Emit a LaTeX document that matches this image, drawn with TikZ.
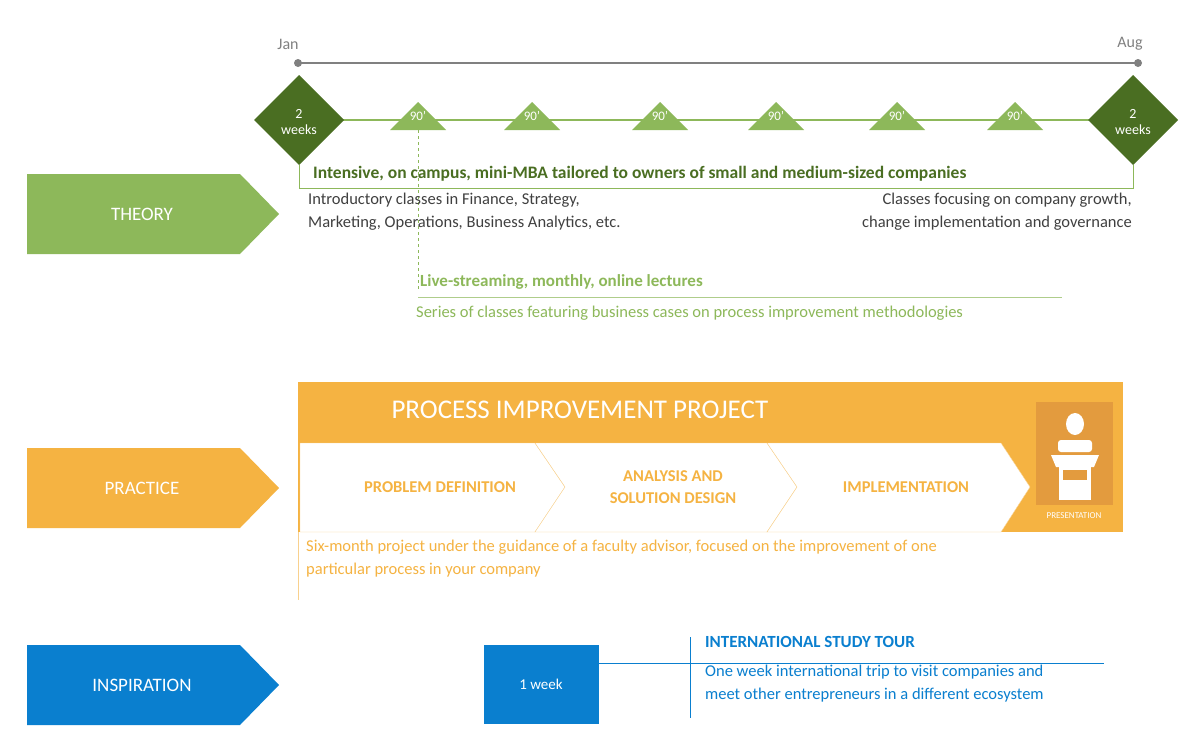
\documentclass[tikz,border=0pt]{standalone}
\usepackage{fontspec}
\setmainfont{Carlito}
\definecolor{dkgreen}{HTML}{4A6E22}
\definecolor{ltgreen}{HTML}{8DB85A}
\definecolor{orng}{HTML}{F5B342}
\definecolor{dkorng}{HTML}{E39B3E}
\definecolor{blu}{HTML}{0A7FCF}
\definecolor{txtgray}{HTML}{404040}
\definecolor{tlgray}{HTML}{808080}
\begin{document}
\begin{tikzpicture}[x=1pt,y=-1pt,
    lbl/.style={font=\fontsize{19}{22}\selectfont, text=white},
    body/.style={font=\fontsize{16.5}{23}\selectfont, align=left, inner sep=0pt}]

    % Set background
    \fill[white] (0,0) rectangle (1200,744);

    % Month line
    \draw[tlgray, line width=2pt] (298,63) -- (1138,63);
    \fill[tlgray] (298,63) circle (4) (1138,63) circle (4);
    \node[text=tlgray, font=\fontsize{16}{18}\selectfont] (jan) at (288,44) {Jan};
    \node[text=tlgray, font=\fontsize{16}{18}\selectfont] (aug) at (1130,44) {Aug};

    % Green timeline
    \draw[ltgreen, line width=1.5pt] (299,120) -- (1133,120);
    \draw[ltgreen, dashed] (418,130) -- (418,290);
    \foreach \x in {418,532,660,776,897,1015}
        \fill[ltgreen] (\x-28,130) -- (\x,102) -- (\x+28,130) -- cycle
            node[white, font=\fontsize{13}{14}\selectfont] at (\x,116) {90'};
    \foreach \x/\n in {299/dstart,1133/dend} {
        \fill[dkgreen] (\x-45,120) -- (\x,75) -- (\x+45,120) -- (\x,165) -- cycle;
        \node[white, align=center, font=\fontsize{14}{16}\selectfont] (\n) at (\x,122) {2\\weeks};
    }

    % Intensive bracket
    \draw[ltgreen, line width=1pt] (299,165) -- (299,188) -- (1133,188) -- (1133,165);
    \node[body, anchor=west, text=dkgreen, font=\bfseries\fontsize{17.5}{20}\selectfont] (intens) at (313,174)
        {Intensive, on campus, mini-MBA tailored to owners of small and medium-sized companies};
    \node[body, anchor=north west, text=txtgray] (intro) at (308,193)
        {Introductory classes in Finance, Strategy,\\Marketing, Operations, Business Analytics, etc.};
    \node[body, anchor=north east, align=right, text=txtgray] (growth) at (1132,193)
        {Classes focusing on company growth,\\change implementation and governance};

    % Live-streaming
    \node[body, anchor=west, text=ltgreen, font=\bfseries\fontsize{17}{20}\selectfont] (live) at (420,282)
        {Live-streaming, monthly, online lectures};
    \draw[ltgreen!70] (418,297) -- (1062,297);
    \node[body, anchor=west, text=ltgreen] (series) at (416,313)
        {Series of classes featuring business cases on process improvement methodologies};

    % Row labels
    \foreach \y/\c/\t/\n in {174/ltgreen/THEORY/theory,448/orng/PRACTICE/practice,645/blu/INSPIRATION/inspiration} {
        \fill[\c] (27,\y) -- (240,\y) -- (279,\y+40) -- (240,\y+80) -- (27,\y+80) -- cycle;
        \node[lbl] (\n) at (142,\y+40) {\t};
    }

    % Process improvement project
    \fill[orng] (298,382) rectangle (1123,532);
    \node[anchor=west, white, font=\fontsize{27}{30}\selectfont] (pip) at (388,410) {PROCESS IMPROVEMENT PROJECT};
    \filldraw[fill=white, draw=orng!60] (300,443) -- (535,443) -- (565,487) -- (535,532) -- (300,532) -- cycle;
    \filldraw[fill=white, draw=orng!60] (535,443) -- (767,443) -- (797,487) -- (767,532) -- (535,532) -- (565,487) -- cycle;
    \filldraw[fill=white, draw=orng!60] (767,443) -- (1001,443) -- (1030,487) -- (1001,532) -- (767,532) -- (797,487) -- cycle;
    \node[text=orng, font=\bfseries\fontsize{16.5}{19}\selectfont] (prob) at (440,487) {PROBLEM DEFINITION};
    \node[text=orng, align=center, font=\bfseries\fontsize{16.5}{22}\selectfont] (anal) at (673,487) {ANALYSIS AND\\SOLUTION DESIGN};
    \node[text=orng, font=\bfseries\fontsize{16.5}{19}\selectfont] (impl) at (906,487) {IMPLEMENTATION};

    % Presentation icon
    \fill[dkorng] (1036,402) rectangle (1113,505);
    \fill[white] (1075,424) ellipse (9 and 11);
    \fill[white, rounded corners=3pt] (1058,452) rectangle (1092,440);
    \fill[white] (1051,455) -- (1099,455) -- (1094,467) -- (1056,467) -- cycle;
    \fill[white] (1059,467) rectangle (1091,500);
    \fill[dkorng] (1063,470) rectangle (1087,480);
    \node[white, font=\fontsize{9}{10}\selectfont] (pres) at (1074,516) {PRESENTATION};

    \draw[orng!60] (298,532) -- (298,600);
    \node[body, anchor=north west, text=orng] (six) at (306,540)
        {Six-month project under the guidance of a faculty advisor, focused on the improvement of one\\particular process in your company};

    % Inspiration
    \fill[blu] (484,645) rectangle (599,724);
    \node[white, font=\fontsize{15}{17}\selectfont] (week) at (541,684) {1 week};
    \draw[blu] (599,663) -- (1104,663);
    \draw[blu] (690,637) -- (690,718);
    \node[body, anchor=west, text=blu, font=\bfseries\fontsize{17}{20}\selectfont] (tour) at (705,642)
        {INTERNATIONAL STUDY TOUR};
    \node[body, anchor=north west, text=blu] (trip) at (705,665)
        {One week international trip to visit companies and\\meet other entrepreneurs in a different ecosystem};
\end{tikzpicture}
\end{document}
